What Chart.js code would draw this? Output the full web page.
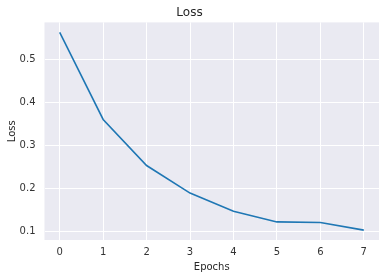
<!DOCTYPE html>
<html>
<head>
<meta charset="utf-8">
<script src="https://cdn.jsdelivr.net/npm/chart.js@4/dist/chart.umd.min.js"></script>
<style>
html,body{margin:0;padding:0;background:#fff;}
#wrap{width:386px;height:278px;position:relative;}
</style>
</head>
<body>
<div id="wrap"><canvas id="c"></canvas></div>
<script>
const epochs = [0, 1, 2, 3, 4, 5, 6, 7];
const loss = [0.5635, 0.361, 0.254, 0.190, 0.148, 0.123, 0.1216, 0.104];
const xTicks = [0, 1, 2, 3, 4, 5, 6, 7];
const yTicks = [0.1, 0.2, 0.3, 0.4, 0.5];

const FONT = "'DejaVu Sans', sans-serif";
const TXT = '#262626';
const TICK = '#333333';

const bgPlugin = {
  id: 'bg',
  beforeDraw(chart) {
    const {ctx, chartArea: a} = chart;
    ctx.save();
    ctx.fillStyle = '#EAEAF2';
    ctx.fillRect(a.left, a.top, a.right - a.left, a.bottom - a.top);
    ctx.restore();
  }
};

new Chart(document.getElementById('c'), {
  type: 'line',
  data: {
    datasets: [{
      data: epochs.map((e, i) => ({x: e, y: loss[i]})),
      borderColor: '#1f77b4',
      borderWidth: 1.6,
      pointRadius: 0,
      tension: 0,
      fill: false
    }]
  },
  options: {
    responsive: true,
    maintainAspectRatio: false,
    animation: false,
    layout: {padding: {left: 0, right: 7, top: 0, bottom: 0}},
    plugins: {
      legend: {display: false},
      tooltip: {enabled: false},
      title: {
        display: true,
        text: 'Loss',
        color: TXT,
        font: {family: FONT, size: 12, weight: 'normal'},
        padding: {top: 6, bottom: 2}
      }
    },
    scales: {
      x: {
        type: 'linear',
        min: -0.35,
        max: 7.35,
        afterBuildTicks(s) { s.ticks = xTicks.map(v => ({value: v})); },
        afterFit(s) { s.height = 38; },
        ticks: {
          color: TICK,
          font: {family: FONT, size: 10},
          padding: 6,
          maxRotation: 0,
          autoSkip: false,
          callback: v => String(v)
        },
        grid: {color: '#ffffff', lineWidth: 1, drawTicks: false},
        border: {display: false},
        title: {
          display: true,
          text: 'Epochs',
          color: TXT,
          font: {family: FONT, size: 10},
          padding: {top: 5, bottom: 5}
        }
      },
      y: {
        type: 'linear',
        min: 0.081,
        max: 0.5865,
        afterBuildTicks(s) { s.ticks = yTicks.map(v => ({value: v})); },
        afterFit(s) { s.width = 44.5; },
        ticks: {
          color: TICK,
          font: {family: FONT, size: 10},
          padding: 9,
          autoSkip: false,
          callback: v => v.toFixed(1)
        },
        grid: {color: '#ffffff', lineWidth: 1, drawTicks: false},
        border: {display: false},
        title: {
          display: true,
          text: 'Loss',
          color: TXT,
          font: {family: FONT, size: 10},
          padding: {top: 6, bottom: 6}
        }
      }
    }
  },
  plugins: [bgPlugin]
});
</script>
</body>
</html>
